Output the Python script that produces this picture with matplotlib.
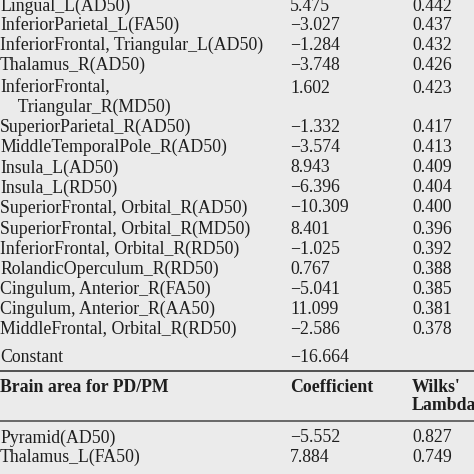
import matplotlib
matplotlib.use("Agg")
import matplotlib.pyplot as plt

areas = ["Lingual_L(AD50)", "InferiorParietal_L(FA50)", "InferiorFrontal, Triangular_L(AD50)",
         "Thalamus_R(AD50)", "InferiorFrontal,", "    Triangular_R(MD50)", "SuperiorParietal_R(AD50)",
         "MiddleTemporalPole_R(AD50)", "Insula_L(AD50)", "Insula_L(RD50)",
         "SuperiorFrontal, Orbital_R(AD50)", "SuperiorFrontal, Orbital_R(MD50)",
         "InferiorFrontal, Orbital_R(RD50)", "RolandicOperculum_R(RD50)",
         "Cingulum, Anterior_R(FA50)", "Cingulum, Anterior_R(AA50)",
         "MiddleFrontal, Orbital_R(RD50)", "Constant"]
coefs = ["5.475", "\u22123.027", "\u22121.284", "\u22123.748", "1.602", "", "\u22121.332", "\u22123.574",
         "8.943", "\u22126.396", "\u221210.309", "8.401", "\u22121.025", "0.767", "\u22125.041",
         "11.099", "\u22122.586", "\u221216.664"]
lambdas = ["0.442", "0.437", "0.432", "0.426", "0.423", "", "0.417", "0.413", "0.409", "0.404",
           "0.400", "0.396", "0.392", "0.388", "0.385", "0.381", "0.378", ""]
row_y = [6, 25, 45, 65, 88, 107, 127, 147, 168, 188, 208, 229, 249, 269, 289, 309, 329, 357]

header = ["Brain area for PD/PM", "Coefficient", "Wilks'"]
header2 = ["", "", "Lambda"]
areas2 = ["Pyramid(AD50)", "Thalamus_L(FA50)"]
coefs2 = ["\u22125.552", "7.884"]
lambdas2 = ["0.827", "0.749"]
row_y2 = [438, 457]

col_x = [0, 290, 412]
fs = 12.8
font = ["Liberation Serif", "DejaVu Serif"]
tc = "#1e1e1e"

fig = plt.figure(figsize=(4.74, 4.74), dpi=100)
fig.patch.set_facecolor("#ebebeb")
ax = fig.add_axes([0, 0, 1, 1])
ax.set_xlim(0, 474); ax.set_ylim(474, 0); ax.axis("off")

def row(y, vals, bold=False):
    for x, v in zip(col_x, vals):
        ax.text(x, y, v, fontsize=fs, family=font, va="center", color=tc,
                fontweight="bold" if bold else "normal")

for y, a, c, l in zip(row_y, areas, coefs, lambdas):
    row(y, [a, c, l])

ax.hlines(371, 0, 474, color="#444444", lw=1.3)
row(387, header, bold=True)
row(406, header2, bold=True)
ax.hlines(421, 0, 474, color="#444444", lw=1.1)
for y, a, c, l in zip(row_y2, areas2, coefs2, lambdas2):
    row(y, [a, c, l])

fig.savefig("out.png", dpi=100, facecolor=fig.get_facecolor())
